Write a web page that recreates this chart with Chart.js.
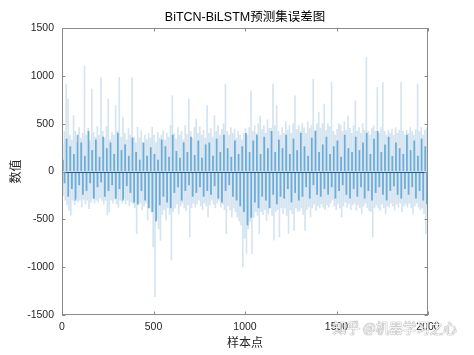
<!DOCTYPE html>
<html><head><meta charset="utf-8">
<script src="https://cdn.jsdelivr.net/npm/chart.js@4/dist/chart.umd.min.js"></script>
<style>
html,body{margin:0;padding:0;background:#fff;}
#wrap{position:relative;width:474px;height:355px;}
#wm{position:absolute;left:333px;top:320px;font-size:13.5px;line-height:14px;font-family:"Noto Sans CJK SC",sans-serif;color:rgba(255,255,255,0.92);text-shadow:0 0 1px #777,0 0 1px #999;white-space:nowrap;}
</style></head>
<body><div id="wrap"><canvas id="c" width="474" height="355"></canvas><div id="wm">知乎 @机器学习之心</div></div>
<script>
// ---- data ----
const titleText = 'BiTCN-BiLSTM预测集误差图';
const xLabel = '样本点';
const yLabel = '数值';
const xTickValues = [0, 500, 1000, 1500, 2000];
const yTickValues = [-1500, -1000, -500, 0, 500, 1000, 1500];
const columnStep = 10;   // samples per column of the envelope arrays
const coreStep = 20;     // samples per point of the dense-core arrays
// highest error in each group of 10 samples
const errUp = [
 280,420,913,757,380,330,583,420,300,460,350,400,1104,380,450,320,861,410,360,470,
 380,983,420,350,470,757,330,410,380,688,420,983,360,566,400,330,450,380,983,360,
 300,462,350,427,300,380,330,400,350,462,380,300,410,350,380,427,330,400,360,480,
 792,400,340,460,380,420,330,480,390,757,420,350,460,549,400,470,380,430,350,688,
 400,450,360,583,420,480,380,440,500,913,420,380,460,400,440,350,420,380,330,400,
 450,380,460,844,420,480,400,500,583,440,480,400,540,450,450,913,480,688,420,380,
 460,400,520,430,480,400,500,792,440,480,420,500,460,400,520,450,480,965,430,500,
 618,450,500,705,430,500,470,930,420,380,440,500,480,420,520,430,583,450,400,480,
 740,420,460,400,500,430,1191,420,380,450,479,420,878,400,460,930,420,380,430,400,
 440,380,460,400,430,930,420,380,430,400,460,420,380,440,913,420,460,380,430,460
];
// lowest error in each group of 10 samples
const errDown = [
 -250,-300,-350,-406,-458,-300,-350,-280,-320,-300,-372,-290,-340,-300,-389,-320,-280,-330,-300,-320,
 -280,-300,-340,-300,-458,-420,-300,-330,-290,-340,-372,-300,-330,-280,-340,-300,-360,-320,-340,-380,
 -649,-350,-330,-400,-360,-330,-510,-380,-420,-788,-1309,-500,-600,-719,-450,-400,-510,-380,-450,-927,
 -420,-380,-340,-440,-360,-330,-380,-406,-350,-684,-380,-330,-372,-340,-300,-360,-400,-330,-360,-475,
 -350,-300,-340,-380,-330,-300,-372,-340,-400,-649,-360,-400,-475,-380,-420,-475,-520,-560,-997,-700,
 -858,-600,-520,-858,-480,-420,-460,-649,-420,-450,-400,-510,-440,-380,-460,-719,-420,-400,-684,-380,
 -440,-380,-460,-649,-400,-440,-615,-380,-420,-406,-380,-450,-615,-400,-370,-475,-380,-340,-406,-360,
 -380,-340,-372,-400,-350,-372,-330,-300,-360,-400,-340,-380,-475,-360,-320,-372,-340,-400,-350,-330,
 -406,-350,-380,-440,-360,-330,-380,-406,-420,-684,-380,-350,-380,-406,-340,-380,-440,-360,-372,-330,
 -360,-406,-340,-372,-330,-420,-360,-340,-372,-330,-380,-440,-360,-330,-372,-400,-380,-440,-650,-420
];
// extent of the dense (dark) core, every 20 samples
const coreUp = [
 120,340,260,180,380,300,160,420,220,330,150,360,240,300,180,400,220,280,160,350,
 200,120,300,160,250,180,120,330,260,150,380,210,140,300,200,360,170,320,140,280,
 300,160,340,200,380,240,150,320,180,260,400,200,320,380,180,360,240,420,200,330,
 240,380,180,340,220,400,260,160,350,420,200,280,360,180,260,320,150,380,240,200,
 360,220,300,400,180,340,420,200,280,360,160,300,240,180,380,220,320,160,340,260
];
const coreDown = [
 -120,-260,-180,-300,-140,-240,-200,-120,-280,-160,-110,-260,-200,-140,-280,-180,-300,-150,-220,-320,
 -340,-200,-300,-380,-420,-520,-350,-260,-320,-380,-220,-160,-300,-200,-140,-260,-220,-160,-260,-200,
 -240,-150,-280,-320,-200,-140,-260,-300,-360,-420,-560,-480,-320,-380,-260,-300,-380,-240,-340,-260,
 -280,-180,-320,-220,-300,-260,-160,-280,-140,-240,-260,-180,-240,-160,-280,-200,-140,-240,-280,-180,
 -260,-160,-280,-200,-300,-220,-160,-240,-300,-200,-150,-240,-280,-180,-240,-160,-280,-200,-300,-340
];

// ---- chart ----
const FONT = '"Liberation Sans","Noto Sans CJK SC",sans-serif';
const toPts = (arr, step, off) => arr.map((v, i) => ({x: i * step + off, y: v}));

const framePlugin = {
  id: 'frame',
  afterDatasetsDraw(chart) {
    const {ctx, chartArea: a, scales: {x, y}} = chart;
    ctx.save();
    const y0 = Math.round(y.getPixelForValue(0)) + 0.5;
    ctx.strokeStyle = '#1e5684';
    ctx.lineWidth = 1;
    ctx.beginPath(); ctx.moveTo(a.left, y0); ctx.lineTo(a.right, y0); ctx.stroke();
    ctx.strokeStyle = '#8c8c8c';
    ctx.strokeRect(Math.round(a.left) + 0.5, Math.round(a.top) + 0.5, Math.round(a.width) - 1, Math.round(a.height) - 1);
    ctx.beginPath();
    yTickValues.forEach(v => {
      const p = Math.round(y.getPixelForValue(v)) + 0.5;
      ctx.moveTo(a.left, p); ctx.lineTo(a.left + 3.5, p);
      ctx.moveTo(a.right, p); ctx.lineTo(a.right - 3.5, p);
    });
    xTickValues.forEach(v => {
      const p = Math.round(x.getPixelForValue(v)) + 0.5;
      ctx.moveTo(p, a.bottom); ctx.lineTo(p, a.bottom - 3.5);
      ctx.moveTo(p, a.top); ctx.lineTo(p, a.top + 3.5);
    });
    ctx.stroke();
    ctx.restore();
  }
};

const barBase = {grouped: false, borderWidth: 0, borderSkipped: false};
new Chart(document.getElementById('c'), {
  type: 'bar',
  data: {
    datasets: [
      Object.assign({data: toPts(coreUp, coreStep, 5), backgroundColor: 'rgba(0,114,189,0.5)', barThickness: 1.1, order: 1}, barBase),
      Object.assign({data: toPts(coreDown, coreStep, 14), backgroundColor: 'rgba(0,114,189,0.5)', barThickness: 1.1, order: 1}, barBase),
      Object.assign({data: toPts(errUp, columnStep, 3), backgroundColor: 'rgba(40,120,180,0.2)', barThickness: 1, order: 2}, barBase),
      Object.assign({data: toPts(errDown, columnStep, 8), backgroundColor: 'rgba(40,120,180,0.2)', barThickness: 1, order: 2}, barBase)
    ]
  },
  options: {
    responsive: false,
    animation: false,
    devicePixelRatio: 1,
    layout: {padding: {left: 0, right: 46, top: 0, bottom: 0}},
    plugins: {
      legend: {display: false},
      tooltip: {enabled: false},
      title: {display: true, fullSize: false, text: titleText, color: '#000',
              font: {family: FONT, size: 12.5, weight: 'normal'}, padding: {top: 10, bottom: 3}}
    },
    scales: {
      x: {
        type: 'linear', min: 0, max: 2000, offset: false,
        afterFit(s) { s.height = 40; },
        grid: {display: false, drawTicks: false},
        border: {display: false},
        afterBuildTicks(s) { s.ticks = xTickValues.map(v => ({value: v})); },
        ticks: {color: '#262626', font: {family: FONT, size: 10.5}, padding: 6, maxRotation: 0,
                callback: v => String(v)},
        title: {display: true, text: xLabel, color: '#262626', font: {family: FONT, size: 12},
                padding: {top: 0, bottom: 4}}
      },
      y: {
        type: 'linear', min: -1500, max: 1500,
        afterFit(s) { s.width = 62; },
        grid: {display: true, drawTicks: false, color: 'rgba(0,0,0,0)'},
        border: {display: false},
        afterBuildTicks(s) { s.ticks = yTickValues.map(v => ({value: v})); },
        ticks: {color: '#262626', font: {family: FONT, size: 10.5}, padding: 8,
                callback: v => String(v)},
        title: {display: true, text: yLabel, color: '#262626', font: {family: FONT, size: 12},
                padding: {top: 9, bottom: 0}}
      }
    }
  },
  plugins: [framePlugin]
});
</script>
</body></html>
